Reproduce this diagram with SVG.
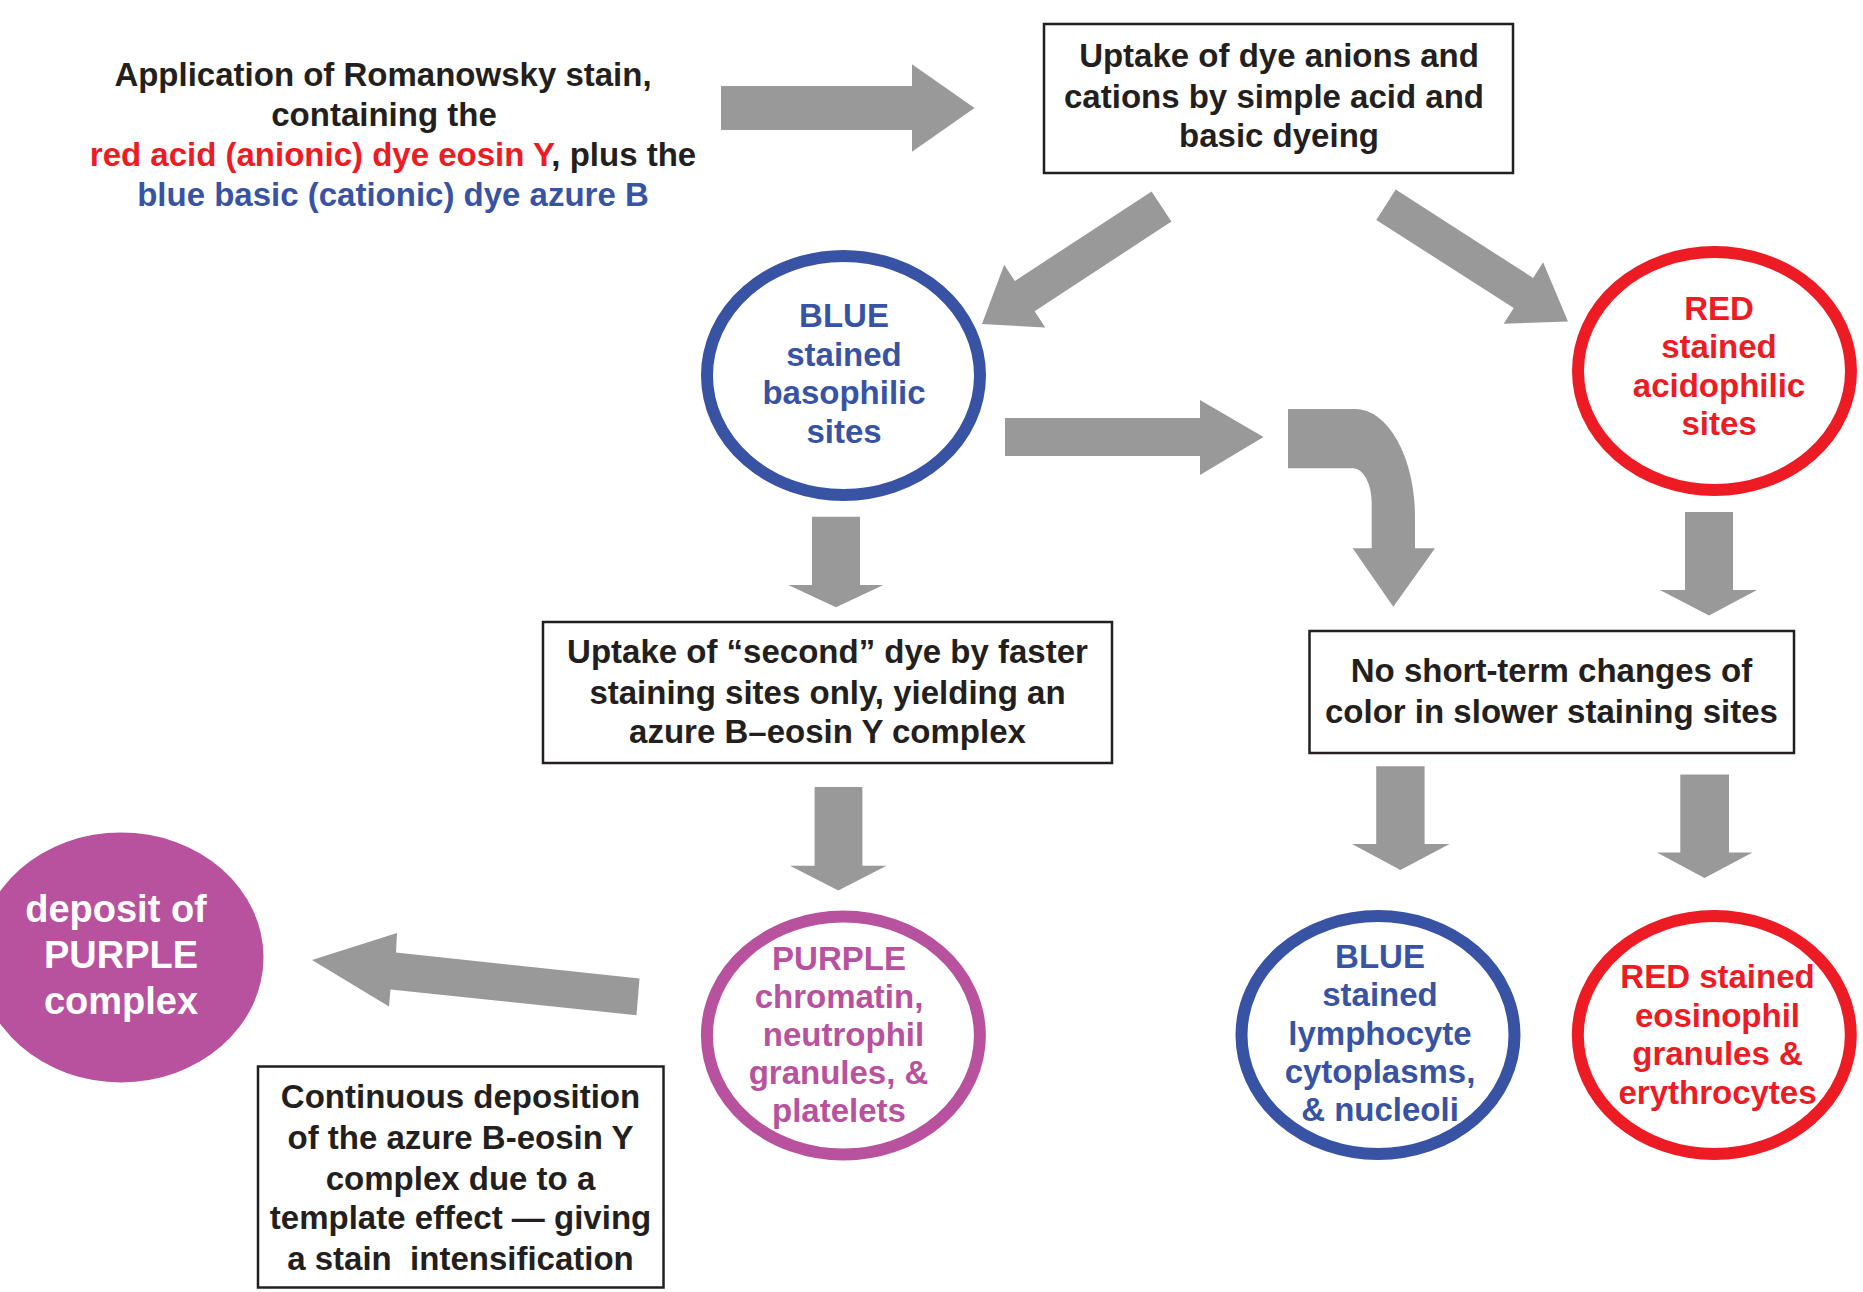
<svg xmlns="http://www.w3.org/2000/svg" width="1863" height="1292" viewBox="0 0 1863 1292">
<style>
text { font-family: "Liberation Sans", Arial, sans-serif; font-weight: bold; font-size: 33px; text-anchor: middle; }
.k { fill: #231f20; }
.b { fill: #3953a4; }
.r { fill: #ed1c24; }
.p { fill: #b8529e; }
.w { fill: #ffffff; font-size: 38px; }
.box { fill: #ffffff; stroke: #231f20; stroke-width: 2.5; }
.arr { fill: #999999; stroke: none; }
.ell { fill: #ffffff; stroke-width: 12; }
</style>
<rect width="1863" height="1292" fill="#ffffff"/>

<g id="connectors">
  <polygon class="arr" points="721,86 912,86 912,64.3 974.5,108 912,151.7 912,130 721,130"/>
  <polygon class="arr" points="1151.6,191.4 1171.4,221.6 1034.6,311.2 1045.3,327.5 982,324 1004.2,264.7 1014.8,281"/>
  <polygon class="arr" points="1395.7,189.6 1533.1,277.9 1543.1,262.3 1568,321.6 1503.7,323.7 1513.7,308.1 1376.3,219.9"/>
  <polygon class="arr" points="1005,418 1200,418 1200,400 1263.5,437 1200,475 1200,456 1005,456"/>
  <path class="arr" d="M1288,409 L1355,409 A60,108 0 0 1 1415,517 L1415,548.3 L1435,548.3 L1393.3,606.7 L1352.7,548.3 L1371.7,548.3 L1371.7,503 A18.4,35 0 0 0 1353.3,468.3 L1288,468.3 Z"/>
  <polygon class="arr" points="812,516.7 860,516.7 860,585 883.3,585 836,607.3 788.3,585 812,585"/>
  <polygon class="arr" points="1685,512 1733,512 1733,590 1757,590 1709,615.5 1660,590 1685,590"/>
  <polygon class="arr" points="814.6,787 862.4,787 862.4,865.7 886.5,865.7 838.3,890.6 790,865.7 814.6,865.7"/>
  <polygon class="arr" points="1376.2,766.3 1424.6,766.3 1424.6,844 1449.6,844 1400.4,870 1352,844 1376.2,844"/>
  <polygon class="arr" points="1680.3,774.5 1729,774.5 1729,852.5 1752.5,852.5 1704.5,878 1656.9,852.5 1680.3,852.5"/>
  <polygon class="arr" points="312,960 397,933 396,952.5 639.5,978.5 636.5,1015.3 390.5,989.5 389,1006.6"/>
</g>

<g id="start-text">
  <text class="k" x="383" y="86">Application of Romanowsky stain,</text>
  <text class="k" x="384" y="126">containing the</text>
  <text class="k" x="393" y="166"><tspan class="r">red acid (anionic) dye eosin Y</tspan>, plus the</text>
  <text class="b" x="393" y="206">blue basic (cationic) dye azure B</text>
</g>

<g id="box-uptake">
  <rect class="box" x="1044" y="24" width="469" height="149"/>
  <text class="k" x="1279" y="67">Uptake of dye anions and</text>
  <text class="k" x="1274" y="108">cations by simple acid and</text>
  <text class="k" x="1279" y="147">basic dyeing</text>
</g>

<g id="blue-basophilic">
  <ellipse class="ell" cx="843.5" cy="375.5" rx="136.5" ry="119.5" stroke="#3953a4"/>
  <text class="b" x="844" y="327">BLUE</text>
  <text class="b" x="844" y="365.5">stained</text>
  <text class="b" x="844" y="404">basophilic</text>
  <text class="b" x="844" y="442.5">sites</text>
</g>

<g id="red-acidophilic">
  <ellipse class="ell" cx="1714.5" cy="371" rx="136.5" ry="119" stroke="#ed1c24"/>
  <text class="r" x="1719" y="319.5">RED</text>
  <text class="r" x="1719" y="358">stained</text>
  <text class="r" x="1719" y="396.5">acidophilic</text>
  <text class="r" x="1719" y="435">sites</text>
</g>

<g id="box-second-dye">
  <rect class="box" x="543" y="622" width="569" height="141"/>
  <text class="k" x="827.5" y="663">Uptake of “second” dye by faster</text>
  <text class="k" x="827.5" y="703.5">staining sites only, yielding an</text>
  <text class="k" x="827.5" y="742.5">azure B–eosin Y complex</text>
</g>

<g id="box-no-change">
  <rect class="box" x="1309.5" y="631" width="484.5" height="122"/>
  <text class="k" x="1551.5" y="682">No short-term changes of</text>
  <text class="k" x="1551.5" y="722.5">color in slower staining sites</text>
</g>

<g id="purple-chromatin">
  <ellipse class="ell" cx="843.4" cy="1035.5" rx="136.5" ry="119" stroke="#b8529e"/>
  <text class="p" x="839" y="969.5">PURPLE</text>
  <text class="p" x="839" y="1007.5">chromatin,</text>
  <text class="p" x="843.5" y="1045.5">neutrophil</text>
  <text class="p" x="838.5" y="1083.5">granules, &amp;</text>
  <text class="p" x="839" y="1121.5">platelets</text>
</g>

<g id="blue-lymphocyte">
  <ellipse class="ell" cx="1378" cy="1035" rx="136.5" ry="119" stroke="#3953a4"/>
  <text class="b" x="1380" y="968">BLUE</text>
  <text class="b" x="1380" y="1006">stained</text>
  <text class="b" x="1380" y="1045">lymphocyte</text>
  <text class="b" x="1380" y="1083">cytoplasms,</text>
  <text class="b" x="1380" y="1121">&amp; nucleoli</text>
</g>

<g id="red-eosinophil">
  <ellipse class="ell" cx="1714.3" cy="1035" rx="136.5" ry="119" stroke="#ed1c24"/>
  <text class="r" x="1717.5" y="988">RED stained</text>
  <text class="r" x="1717.5" y="1026.5">eosinophil</text>
  <text class="r" x="1717.5" y="1065">granules &amp;</text>
  <text class="r" x="1717.5" y="1103.5">erythrocytes</text>
</g>

<g id="deposit-purple">
  <ellipse cx="121" cy="957.4" rx="142.5" ry="125" fill="#b8529e"/>
  <text class="w" x="116" y="922">deposit of</text>
  <text class="w" x="121" y="968">PURPLE</text>
  <text class="w" x="121" y="1014">complex</text>
</g>

<g id="box-continuous">
  <rect class="box" x="258" y="1066.5" width="405.5" height="221"/>
  <text class="k" x="460.5" y="1108">Continuous deposition</text>
  <text class="k" x="460.5" y="1148.5">of the azure B-eosin Y</text>
  <text class="k" x="460.5" y="1190">complex due to a</text>
  <text class="k" x="460.5" y="1229">template effect — giving</text>
  <text class="k" x="460.5" y="1270" xml:space="preserve">a stain  intensification</text>
</g>
</svg>
